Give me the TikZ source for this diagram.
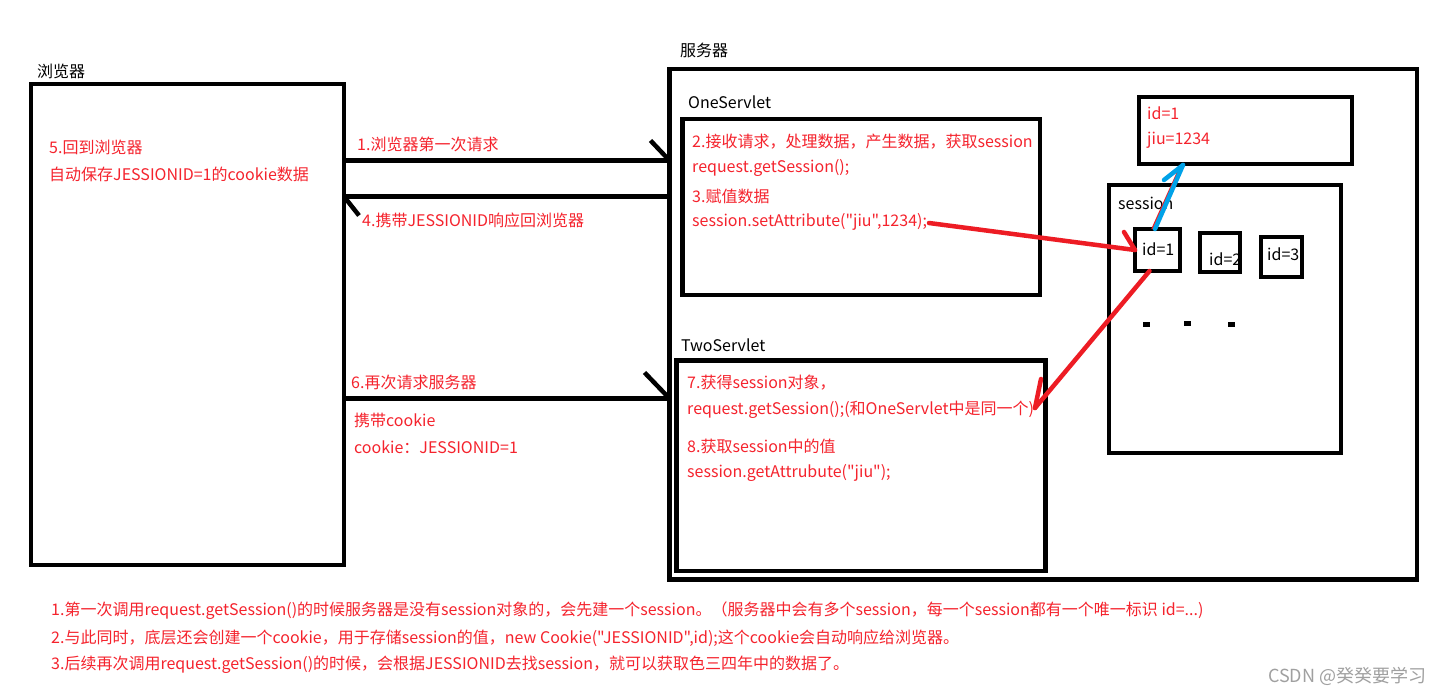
\documentclass[tikz,border=0pt]{standalone}
\usepackage{fontspec}
\setmainfont{Noto Sans CJK SC}[Ligatures=TeXOff]
\usetikzlibrary{calc}
\definecolor{txtred}{RGB}{245,35,45}
\definecolor{penred}{RGB}{237,28,36}
\definecolor{penblue}{RGB}{0,162,232}
\definecolor{wmgray}{RGB}{160,160,160}
\tikzset{
  box/.style={draw=black, line width=4.5pt, rectangle, anchor=north west, outer sep=0pt, inner sep=0pt},
  smallbox/.style={draw=black, line width=4pt, rectangle, anchor=north west, outer sep=0pt, inner sep=0pt},
  lbl/.style={anchor=west, inner sep=0pt, text=black, font=\fontsize{16}{19}\selectfont},
  rtxt/.style={anchor=west, inner sep=0pt, text=txtred, font=\fontsize{16}{19}\selectfont},
  conn/.style={draw=black, line width=4.5pt},
  redpen/.style={draw=penred, line width=4.5pt, line cap=round},
  bluepen/.style={draw=penblue, line width=4.5pt, line cap=round},
  dotsq/.style={fill=black, minimum width=7pt, minimum height=5pt, inner sep=0pt, outer sep=0pt}
}
\begin{document}
\begin{tikzpicture}[x=1pt, y=-1pt]
\useasboundingbox (0,0) rectangle (1452,695);
\fill[white] (0,0) rectangle (1452,695);

% ---- boxes ----
\node[box, minimum width=313pt, minimum height=481pt] (browser) at (31,84) {};
\node[box, minimum width=747.5pt, minimum height=510.5pt] (server) at (669.5,69) {};
\node[box, minimum width=357.5pt, minimum height=176pt] (one) at (682.5,119) {};
\node[box, minimum width=369pt, minimum height=210.5pt] (two) at (676.5,360.5) {};
\node[box, minimum width=213pt, minimum height=67pt] (store) at (1139,97) {};
\node[box, minimum width=232pt, minimum height=268pt] (sess) at (1109,185) {};

% ---- labels ----
\node[lbl] (lbrowser) at (37,71) {浏览器};
\node[lbl] (lserver) at (680,50) {服务器};
\node[lbl] (lone) at (688,102) {OneServlet};
\node[lbl] (ltwo) at (681,345) {TwoServlet};
\node[lbl] (lsess) at (1118,203) {session};

% ---- session id boxes ----
\node[lbl] (t1) at (1142,249) {id=1};
\node[lbl] (t2) at (1209,259) {id=2};
\node[lbl] (t3) at (1267,254) {id=3};
\node[smallbox, minimum width=45pt, minimum height=42pt] (id1) at (1135,229) {};
\node[smallbox, minimum width=40pt, minimum height=39pt] (id2) at (1200,233) {};
\node[smallbox, minimum width=41pt, minimum height=40pt] (id3) at (1261,237) {};
\node[dotsq] (d1) at (1146,324) {};
\node[dotsq] (d2) at (1187,323) {};
\node[dotsq] (d3) at (1231,324) {};

% ---- red texts ----
\node[rtxt] (s1) at (357,144) {1.浏览器第一次请求};
\node[rtxt] (s4) at (362,220) {4.携带JESSIONID响应回浏览器};
\node[rtxt] (s5a) at (49,147) {5.回到浏览器};
\node[rtxt] (s5b) at (49,174) {自动保存JESSIONID=1的cookie数据};
\node[rtxt] (o1) at (692,142) {2.接收请求，处理数据，产生数据，获取session};
\node[rtxt] (o2) at (692,168) {request.getSession();};
\node[rtxt] (o3) at (692,196) {3.赋值数据};
\node[rtxt] (o4) at (692,222) {session.setAttribute("jiu",1234);};
\node[rtxt] (st1) at (1147,113) {id=1};
\node[rtxt] (st2) at (1147,140) {jiu=1234};
\node[rtxt] (s6) at (351,382) {6.再次请求服务器};
\node[rtxt] (c1) at (354,420) {携带cookie};
\node[rtxt] (c2) at (354,447) {cookie：JESSIONID=1};
\node[rtxt] (w1) at (687,383) {7.获得session对象，};
\node[rtxt] (w2) at (687,410) {request.getSession();(和OneServlet中是同一个)};
\node[rtxt] (w3) at (687,446) {8.获取session中的值};
\node[rtxt] (w4) at (687,473) {session.getAttrubute("jiu");};

% ---- notes ----
\node[rtxt] (n1) at (51,611) {1.第一次调用request.getSession()的时候服务器是没有session对象的，会先建一个session。（服务器中会有多个session，每一个session都有一个唯一标识 id=...)};
\node[rtxt] (n2) at (51,638) {2.与此同时，底层还会创建一个cookie，用于存储session的值，new Cookie("JESSIONID",id);这个cookie会自动响应给浏览器。};
\node[rtxt] (n3) at (51,665) {3.后续再次调用request.getSession()的时候，会根据JESSIONID去找session，就可以获取色三四年中的数据了。};
\node[anchor=west, inner sep=0pt, text=wmgray, font=\fontsize{18}{21}\selectfont] (wm) at (1268,676) {CSDN @癸癸要学习};

% ---- black connectors ----
\coordinate (a1s) at ($(browser.north east)+(0,76.5)$);
\coordinate (a1e) at ($(server.north west)+(0,91.5)$);
\coordinate (a4s) at ($(server.north west)+(0,127.5)$);
\coordinate (a4e) at ($(browser.north east)+(0,112.5)$);
\coordinate (a6s) at ($(browser.north east)+(0,314.5)$);
\coordinate (a6e) at ($(server.north west)+(0,329.5)$);
\draw[conn] (a1s) -- (a1e);
\draw[conn] (a1e) -- ++(-19,-20);
\draw[conn] (a4s) -- (a4e);
\draw[conn] (a4e) -- ++(15,19);
\draw[conn] (a6s) -- (a6e);
\draw[conn] (a6e) -- ++(-25,-26);

% ---- red / blue pen arrows ----
\coordinate (r1s) at (929,223);
\coordinate (r1e) at (id1.west);
\draw[redpen] (r1s) -- (r1e);
\draw[redpen] (r1e) -- ++(-11,-18);
\coordinate (r2s) at ($(id1.south)+(-8,0)$);
\coordinate (r2e) at (1035,408);
\draw[redpen] (r2s) -- (r2e);
\draw[redpen] (r2e) -- ++(6,-29);
\coordinate (b1s) at ($(id1.north)+(-2.5,0)$);
\coordinate (b1e) at ($(store.south west)+(44,1)$);
\draw[draw=penred, line width=1.5pt] ($(b1s)+(-3,0)$) -- ($(b1e)+(-4,4)$);
\draw[bluepen] (b1s) -- (b1e);
\draw[bluepen] (b1e) -- ++(-19,15);
\end{tikzpicture}
\end{document}
